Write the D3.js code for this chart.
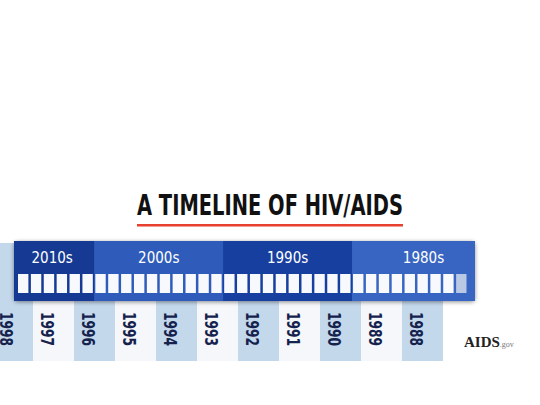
<!DOCTYPE html>
<html><head><meta charset="utf-8">
<script src="https://cdn.jsdelivr.net/npm/d3@7"></script>
<style>body{margin:0;background:#fff}</style></head>
<body><div id="chart"></div>
<script>
// timeline data
const decades = ['2010s', '2000s', '1990s', '1980s'];
const decadeStart = [2015, 2009, 1999, 1989];   // leftmost year of each band
const decadeEnd = [2010, 2000, 1990, 1981];
const cellYears = d3.range(2015, 1980, -1);
const years = [1998, 1997, 1996, 1995, 1994, 1993, 1992, 1991, 1990, 1989, 1988];

const width = 540, height = 405;
const svg = d3.select('#chart').append('svg').attr('width', width).attr('height', height);

const defs = svg.append('defs');
const f = defs.append('filter').attr('id', 'sh').attr('x', '-5%').attr('y', '-20%').attr('width', '110%').attr('height', '150%');
f.append('feDropShadow').attr('dx', 0).attr('dy', 1).attr('stdDeviation', 2).attr('flood-color', '#000').attr('flood-opacity', 0.45);

// title
svg.append('text').attr('x', 270).attr('y', 215).attr('text-anchor', 'middle')
  .attr('font-family', 'Liberation Sans Narrow, DejaVu Sans Condensed, sans-serif').attr('font-weight', 'bold')
  .attr('font-size', 29).attr('fill', '#111').attr('textLength', 266).attr('lengthAdjust', 'spacingAndGlyphs')
  .text('A TIMELINE OF HIV/AIDS');
svg.append('rect').attr('x', 137).attr('y', 224).attr('width', 266).attr('height', 2.5).attr('fill', '#e8402f');

// year columns
const x = d3.scaleBand().domain(years).range([-8, 443]).paddingInner(0);
const colG = svg.append('g');
colG.selectAll('rect').data(years).join('rect')
  .attr('x', d => x(d)).attr('y', 243).attr('width', x.bandwidth()).attr('height', 118)
  .attr('fill', (d, i) => i % 2 === 0 ? '#c4d8ec' : '#f5f7fa');
colG.selectAll('text').data(years).join('text')
  .attr('transform', d => `translate(${x(d) + x.bandwidth() / 2 - 13},312) rotate(90)`)
  .attr('font-family', 'Liberation Sans Narrow, DejaVu Sans Condensed, sans-serif').attr('font-weight', 'bold')
  .attr('font-size', 18).attr('fill', '#14224d').attr('textLength', 34).attr('lengthAdjust', 'spacingAndGlyphs')
  .text(d => d);

// decade bar
const c = d3.scaleBand().domain(cellYears).range([17, 468]);
const barG = svg.append('g');
barG.append('rect').attr('x', 14).attr('y', 241).attr('width', 461).attr('height', 60).attr('rx', 4)
  .attr('fill', '#2a52b0').attr('filter', 'url(#sh)');
const bandColors = ['#163a94', '#2f5cba', '#173f9f', '#3865c2'];
const bx0 = i => i === 0 ? 14 : c(decadeStart[i]);
const bx1 = i => i === 3 ? 475 : c(decadeEnd[i]) + c.bandwidth();
barG.selectAll('.band').data(decades).join('rect').attr('class', 'band')
  .attr('x', (d, i) => bx0(i)).attr('y', 241)
  .attr('width', (d, i) => bx1(i) - bx0(i))
  .attr('height', 60).attr('fill', (d, i) => bandColors[i]);
barG.selectAll('.dl').data(decades).join('text').attr('class', 'dl')
  .attr('x', (d, i) => (bx0(i) + bx1(i)) / 2 + (i === 0 ? -2 : i === 3 ? 10 : 0))
  .attr('y', 263).attr('text-anchor', 'middle')
  .attr('font-family', 'Liberation Sans Narrow, DejaVu Sans Condensed, sans-serif')
  .attr('font-size', 15).attr('fill', '#fff').text(d => d);
barG.selectAll('.cell').data(cellYears).join('rect').attr('class', 'cell')
  .attr('x', d => c(d) + 1).attr('y', 274).attr('width', c.bandwidth() - 2.5).attr('height', 19)
  .attr('fill', (d, i) => i === cellYears.length - 1 ? '#b9c8e4' : '#f7f9fc');

// logo
svg.append('text').attr('x', 464).attr('y', 347).attr('font-family', 'Liberation Serif, serif')
  .attr('font-weight', 'bold').attr('font-size', 15).attr('fill', '#222').text('AIDS')
  .append('tspan').attr('font-size', 8).attr('font-weight', 'normal').attr('fill', '#777').text('.gov');
</script></body></html>
